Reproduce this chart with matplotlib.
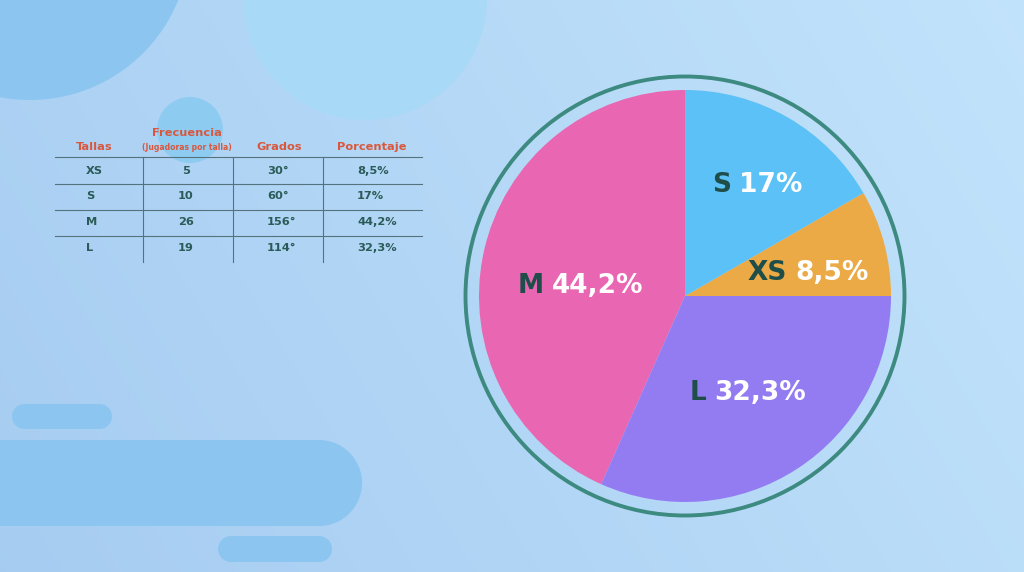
import numpy as np
import matplotlib
matplotlib.use("Agg")
import matplotlib.pyplot as plt
from matplotlib.patches import Circle

# ---- data ----
tallas = ["XS", "S", "M", "L"]
frecuencia = [5, 10, 26, 19]
grados = ["30°", "60°", "156°", "114°"]
porcentaje = ["8,5%", "17%", "44,2%", "32,3%"]
headers = ["Tallas", "Frecuencia", "Grados", "Porcentaje"]
subheader = "(Jugadoras por talla)"

slice_colors = ["#ebaa45", "#5cc1f6", "#e966b3", "#937cf2"]
dark = "#1f4d49"
head_col = "#d9573c"
font = "DejaVu Sans"

W, H = 1024, 572
fig = plt.figure(figsize=(W / 100, H / 100), dpi=100)

# ---- background axes in pixel coordinates ----
bg = fig.add_axes([0, 0, 1, 1])
bg.set_xlim(0, W)
bg.set_ylim(H, 0)
bg.axis("off")
gx = np.linspace(0, 1, 256)
gy = np.linspace(0, 1, 256)
GX, GY = np.meshgrid(gx, gy)
c0 = np.array([0.65, 0.80, 0.945])
c1 = np.array([0.76, 0.89, 0.985])
t = np.clip(0.75 * GX + 0.25 * (1 - GY), 0, 1)[..., None]
img = c0 * (1 - t) + c1 * t
bg.imshow(img, extent=[0, W, H, 0], aspect="auto", zorder=0)

bg.add_patch(Circle((30, -60), 160, color="#8cc6f0", zorder=1, lw=0))
bg.add_patch(Circle((365, -2), 122, color="#a8d9f7", zorder=1, lw=0))
bg.add_patch(Circle((190, 130), 33, color="#8ecbf1", zorder=1, lw=0))
for (x, y, w, h) in [(12, 404, 100, 25), (-60, 440, 422, 86), (218, 536, 114, 26)]:
    bg.add_patch(Circle((x + h / 2, y + h / 2), h / 2, color="#8cc6f0", lw=0, zorder=1))
    bg.add_patch(Circle((x + w - h / 2, y + h / 2), h / 2, color="#8cc6f0", lw=0, zorder=1))
    bg.add_patch(plt.Rectangle((x + h / 2, y), w - h, h, color="#8cc6f0", lw=0, zorder=1))

# ---- table ----
line_col = "#55737d"
row_y = [171, 196, 222, 248]
hlines = [157, 183.5, 209.5, 236]
for y in hlines:
    bg.plot([55, 422], [y, y], color=line_col, lw=0.8, zorder=3)
for x in [143, 233, 323]:
    bg.plot([x, x], [157, 262], color=line_col, lw=0.8, zorder=3)

hf = dict(fontfamily=font, fontweight="bold", color=head_col, fontsize=8.2, zorder=4, va="center")
bg.text(76, 147, headers[0], ha="left", **hf)
bg.text(187, 133, headers[1], ha="center", **hf)
bg.text(187, 147, subheader, ha="center", **{**hf, "fontsize": 5.5})
bg.text(279, 147, headers[2], ha="center", **hf)
bg.text(372, 147, headers[3], ha="center", **hf)

df = dict(fontfamily=font, fontweight="bold", color="#2b5b58", fontsize=8.2, zorder=4, va="center")
for i, y in enumerate(row_y):
    bg.text(86, y, tallas[i], ha="left", **df)
    bg.text(186, y, str(frecuencia[i]), ha="center", **df)
    bg.text(267, y, grados[i], ha="left", **df)
    bg.text(357, y, porcentaje[i], ha="left", **df)

# ---- pie ----
cx, cy, R = 685, 296, 206
half = 228
pax = fig.add_axes([(cx - half) / W, (H - cy - half) / H, 2 * half / W, 2 * half / H])
pax.pie(frecuencia, colors=slice_colors, startangle=0, counterclock=True,
        radius=R, center=(0, 0), wedgeprops=dict(linewidth=0),
        frame=False)
pax.set_xlim(-half, half)
pax.set_ylim(-half, half)
pax.set_aspect("equal")
pax.axis("off")
pax.add_patch(Circle((0, 0), 219.5, fill=False, edgecolor="#3d8a80", lw=2.8))

anchors = {"XS": (791, 273), "S": (735, 185), "M": (548, 286), "L": (710, 393)}
lf = dict(fontfamily=font, fontweight="bold", fontsize=19, va="center")
for i, name in enumerate(tallas):
    ax_, ay_ = anchors[name]
    x, y = ax_ - cx, cy - ay_
    pax.text(x - 4, y, name, ha="right", color=dark, **lf)
    pax.text(x + 4, y, porcentaje[i], ha="left", color="white", **lf)

fig.savefig("out.png", dpi=100)
